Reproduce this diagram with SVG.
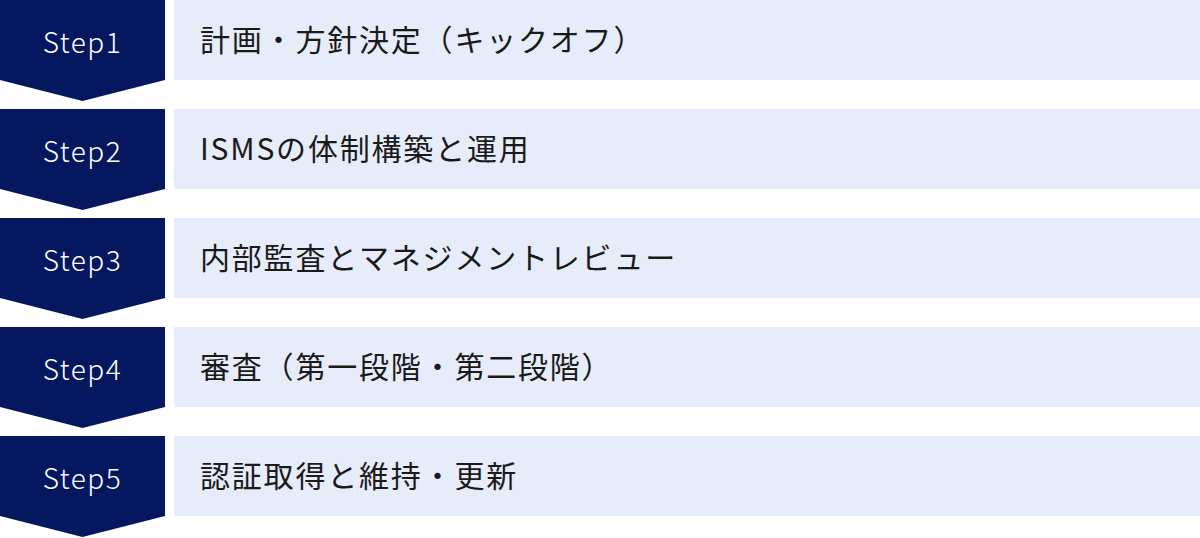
<svg xmlns="http://www.w3.org/2000/svg" width="1200" height="538" viewBox="0 0 1200 538">
<style>
.step{fill:#05175f}
.box{fill:#e6ecf9}
.st{font-family:"Noto Sans CJK JP","Noto Sans",sans-serif;font-size:28px;font-weight:300;fill:#ffffff;text-anchor:middle;letter-spacing:1.5px}
.lb{font-family:"Noto Sans CJK JP","Noto Sans",sans-serif;font-size:30px;fill:#1a1a1a;letter-spacing:1.8px}
</style>
<defs>
<path id="chev" d="M0,0 H165 V80 L82.5,101 L0,80 Z"/>
</defs>
<rect width="1200" height="538" fill="#ffffff"/>
<g id="step1" transform="translate(0,0)">
<use href="#chev" class="step"/>
<rect class="box" x="174" y="0" width="1026" height="80"/>
<text class="st" x="82.5" y="53">Step1</text>
<text class="lb" x="200" y="51">計画・方針決定（キックオフ）</text>
</g>
<g id="step2" transform="translate(0,109)">
<use href="#chev" class="step"/>
<rect class="box" x="174" y="0" width="1026" height="80"/>
<text class="st" x="82.5" y="53">Step2</text>
<text class="lb" x="200" y="51">ISMSの体制構築と運用</text>
</g>
<g id="step3" transform="translate(0,218)">
<use href="#chev" class="step"/>
<rect class="box" x="174" y="0" width="1026" height="80"/>
<text class="st" x="82.5" y="53">Step3</text>
<text class="lb" x="200" y="51">内部監査とマネジメントレビュー</text>
</g>
<g id="step4" transform="translate(0,327)">
<use href="#chev" class="step"/>
<rect class="box" x="174" y="0" width="1026" height="80"/>
<text class="st" x="82.5" y="53">Step4</text>
<text class="lb" x="200" y="51">審査（第一段階・第二段階）</text>
</g>
<g id="step5" transform="translate(0,436)">
<use href="#chev" class="step"/>
<rect class="box" x="174" y="0" width="1026" height="80"/>
<text class="st" x="82.5" y="53">Step5</text>
<text class="lb" x="200" y="51">認証取得と維持・更新</text>
</g>
<g id="connectors"></g>
</svg>
